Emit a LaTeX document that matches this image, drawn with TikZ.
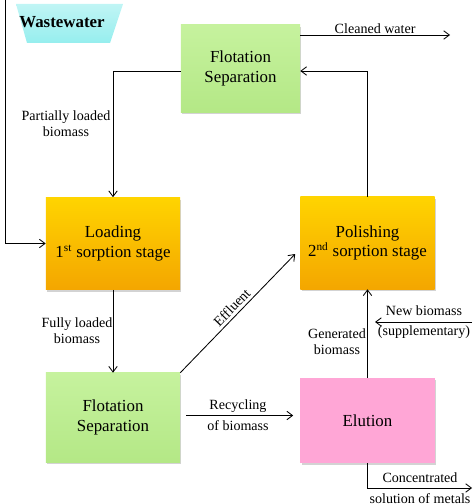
\documentclass[tikz,border=0pt]{standalone}
\usepackage{fontspec}
\setmainfont{Liberation Serif}
\usetikzlibrary{arrows.meta, positioning, calc, shapes, shadows}
\definecolor{flotgreen}{RGB}{180, 232, 134}
\definecolor{flotgreentop}{RGB}{198, 242, 158}
\definecolor{stagetop}{RGB}{255, 212, 0}
\definecolor{stagebot}{RGB}{244, 166, 0}
\definecolor{elupink}{RGB}{255, 166, 214}
\definecolor{wwcyan}{RGB}{150, 238, 238}

\tikzset{
    box/.style={draw=none, align=center, font=\fontsize{12}{14}\selectfont,
        minimum width=3.35cm, minimum height=2.3cm, inner sep=0pt,
        drop shadow={shadow xshift=1pt, shadow yshift=-1.5pt, opacity=0.35}},
    flotbox/.style={box, top color=flotgreentop, bottom color=flotgreen},
    stagebox/.style={box, top color=stagetop, bottom color=stagebot},
    elubox/.style={box, fill=elupink},
    lbl/.style={align=center, font=\fontsize{10}{11.5}\selectfont, inner sep=1pt},
    flow/.style={-{Straight Barb[length=4pt, width=6pt]}, semithick}
}

\begin{document}
\begin{tikzpicture}[x=0.025cm, y=-0.025cm]
    \useasboundingbox (0,0) rectangle (474,504);

    % Wastewater inlet
    \path[top color=wwcyan!60, bottom color=wwcyan] (16,4) -- (123,4) -- (110,43) -- (27,43) -- cycle;
    \node[font=\bfseries\fontsize{12}{14}\selectfont] (ww) at (62,22) {Wastewater};

    % Boxes
    \node[flotbox, minimum width=2.975cm, minimum height=2.175cm] (flottop) at (240.5,68.5) {Flotation\\Separation};
    \node[stagebox] (loading) at (113,243.5) {Loading\\ 1\textsuperscript{st} sorption stage};
    \node[stagebox] (polish) at (367.5,243) {Polishing\\ 2\textsuperscript{nd} sorption stage};
    \node[flotbox, minimum height=2.225cm] (flotbot) at (113,417.5) {Flotation\\Separation};
    \node[elubox, minimum height=2.125cm] (elution) at (367.5,420.5) {Elution};

    % Free ends
    \coordinate (wwin) at (5,0);
    \coordinate (cleaned) at (450,35);
    \coordinate (newbio) at (472,322);
    \coordinate (newbioend) at (375,322);
    \coordinate (metals) at (472,488);

    % Connectors
    \draw[flow] (wwin) |- (loading.west);
    \draw[flow] (flottop.east |- cleaned) -- node[lbl, above] {Cleaned water} (cleaned);
    \draw[flow] (polish.north) |- (flottop.east |- 0,71);
    \draw[flow] (flottop.west |- 0,71) -| (loading.north);
    \draw[flow] (loading.south) -- (flotbot.north);
    \draw[flow] (flotbot.north east) -- node[lbl, above=1pt, sloped] {Effluent} ($(polish.west)+(-5,11)$);
    \draw[flow] ($(flotbot.east)+(6,-2)$) -- ($(elution.west)+(-7,-5)$);
    \draw[flow] (elution.north) -- (polish.south);
    \draw[flow] (newbio) -- (newbioend);
    \draw[flow] (elution.south) |- (metals);

    % Labels
    \node[lbl] (lpart) at (66,124) {Partially loaded\\biomass};
    \node[lbl] (lfull) at (77,331) {Fully loaded\\biomass};
    \node[lbl] (lrec) at (238,415) {Recycling\\[3pt]of biomass};
    \node[lbl] (lgen) at (337,342) {Generated\\biomass};
    \node[lbl] (lnew) at (424,322) {New biomass\\[3pt](supplementary)};
    \node[lbl] (lconc) at (420,488) {Concentrated\\[3pt]solution of metals};
\end{tikzpicture}
\end{document}
